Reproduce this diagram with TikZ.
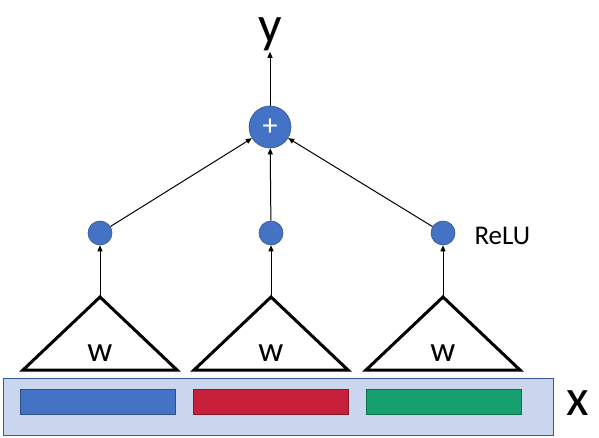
\documentclass[tikz,border=0pt]{standalone}
\usepackage{fontspec}
\setmainfont{Carlito}
\usetikzlibrary{arrows.meta,positioning}
\definecolor{nodeblue}{HTML}{4472C4}
\definecolor{bandblue}{HTML}{CAD6EE}
\definecolor{segred}{HTML}{C8203A}
\definecolor{seggreen}{HTML}{16A070}

\begin{document}
\begin{tikzpicture}[
    x=1pt, y=1pt,
    unit/.style={circle, fill=nodeblue, draw=nodeblue!75!black, line width=0.6pt, minimum size=24pt, inner sep=0pt},
    sum/.style={unit, minimum size=42pt, text=white, font=\fontsize{30}{30}\selectfont},
    arrow/.style={-{Triangle[length=6pt,width=5pt]}, line width=1pt},
    weight/.style={line width=3pt, line join=miter},
    seg/.style={draw=#1!70!black, fill=#1, line width=0.6pt, minimum width=155pt, minimum height=25pt, inner sep=0pt},
    bigtext/.style={font=\fontsize{52}{52}\selectfont}
]
\useasboundingbox (0,0) rectangle (599,437);

% Input band
\node[draw=nodeblue!80!black, fill=bandblue, line width=0.6pt, minimum width=550pt, minimum height=57pt, inner sep=0pt] (band) at (278,30.5) {};
\node[seg=nodeblue] (seg1) at (97.5,35.5) {};
\node[seg=segred] (seg2) at (270.5,35.5) {};
\node[seg=seggreen] (seg3) at (443.5,35.5) {};
\node[bigtext, anchor=center] (xlab) at (578,34) {x};

% Weight triangles and hidden units
\foreach \i/\px in {1/100, 2/271, 3/443} {
    \coordinate (apex\i) at (\px,140);
    \draw[weight] (apex\i) -- ++(-77,-73) -- ++(154,0) -- cycle;
    \node[font=\fontsize{35}{35}\selectfont] (w\i) at (\px,84) {w};
    \node[unit] (h\i) at (\px,204) {};
    \draw[arrow] (apex\i) -- (h\i);
}
\node[font=\fontsize{27}{27}\selectfont, anchor=west] (relu) at (471,201) {ReLU};

% Sum and output
\node[sum] (plus) at (270,310) {+};
\node[bigtext, inner sep=1pt] (ylab) at (270,403) {y};
\foreach \i in {1,2,3}
    \draw[arrow] (h\i) -- (plus);
\draw[arrow] (plus) -- (ylab);

\end{tikzpicture}
\end{document}
